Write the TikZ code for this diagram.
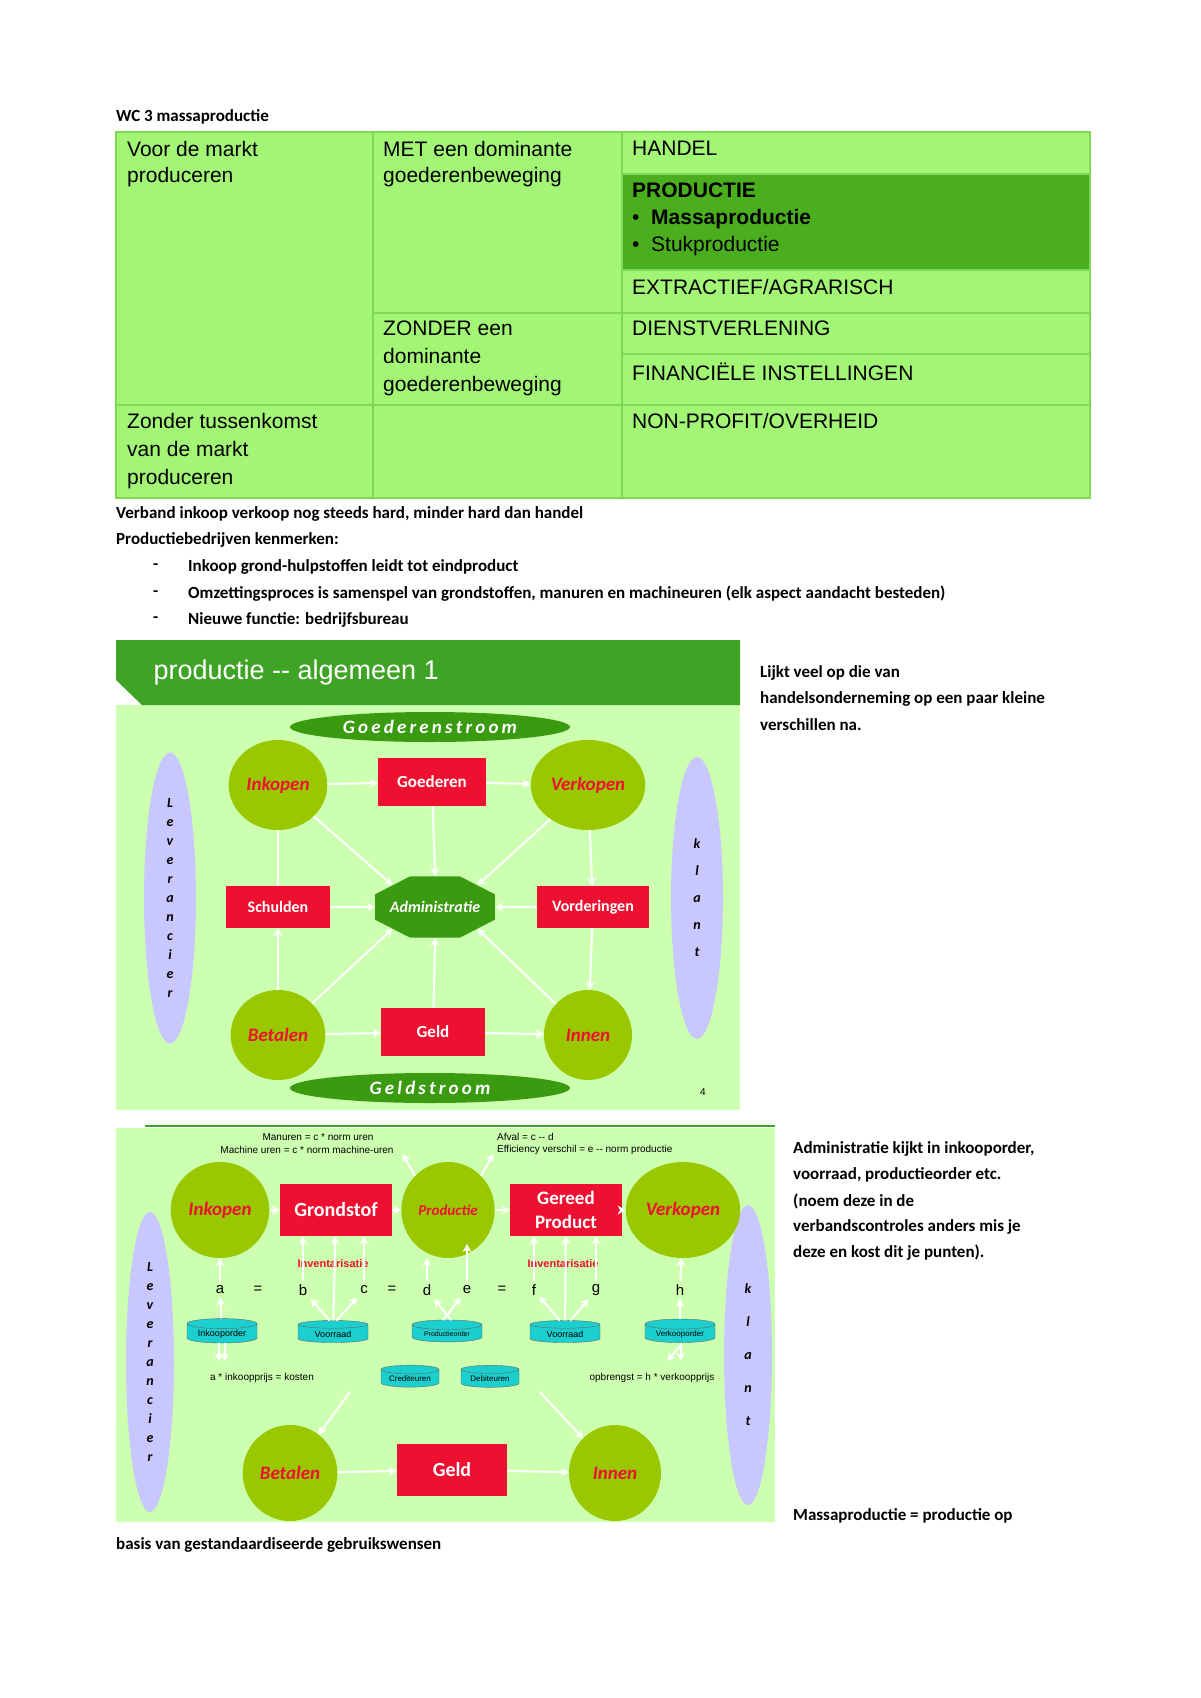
\documentclass[tikz,border=0pt]{standalone}
\usepackage{fontspec}
\setmainfont{Carlito}
\newfontfamily\arial{Liberation Sans}
\usetikzlibrary{arrows.meta,shapes.geometric}
\definecolor{lg}{HTML}{A3F576}
\definecolor{lgb}{HTML}{7ED957}
\definecolor{dg}{HTML}{4AAE1E}
\definecolor{hdr}{HTML}{3FA326}
\definecolor{bg}{HTML}{CCFFB0}
\definecolor{yg}{HTML}{99C800}
\definecolor{rd}{HTML}{EE1030}
\definecolor{lav}{HTML}{C8C8FF}
\definecolor{oct}{HTML}{3A9A10}
\definecolor{cy}{HTML}{1CCFCF}
\begin{document}
\begin{tikzpicture}[x=1pt,y=-1pt,
 doc/.style={anchor=west,font=\fontsize{17}{20}\selectfont\bfseries,inner sep=0},
 cell/.style={anchor=north west,font=\arial\fontsize{21}{26}\selectfont,align=left,inner sep=0},
 circ/.style={ellipse,fill=yg,minimum width=88,minimum height=90,font=\bfseries\itshape\fontsize{19}{20}\selectfont,text=rd},
 box/.style={fill=rd,text=white,font=\bfseries\fontsize{17}{20}\selectfont,align=center},
 side/.style={ellipse,fill=lav,font=\bfseries\itshape\fontsize{14}{19}\selectfont,align=center},
 stream/.style={ellipse,fill=oct,text=white,font=\bfseries\itshape\fontsize{19}{20}\selectfont},
 wa/.style={draw=white,line width=2pt,-{Stealth[length=8pt,width=9pt]}},
 wl/.style={draw=white,line width=2pt},
 cyl/.style={cylinder,shape border rotate=90,aspect=0.2,fill=cy,draw=black!60,minimum width=70,minimum height=22,font=\arial\fontsize{9}{10}\selectfont,inner sep=1},
 sm/.style={font=\arial\fontsize{10}{11}\selectfont,inner sep=0},
 let/.style={font=\arial\fontsize{15}{16}\selectfont}]
\useasboundingbox (0,0) rectangle (1200,1698);
\fill[white] (0,0) rectangle (1200,1698);
\node[doc] (t0) at (116,117) {WC 3 massaproductie};
% table
\fill[lg] (116,132) rectangle (1090,498);
\fill[dg] (622,174) rectangle (1090,270);
\begin{scope}[draw=lgb,line width=1.5pt]
\draw (116,132) rectangle (1090,498);
\draw (373,132) -- (373,498) (622,132) -- (622,498);
\draw (622,174) -- (1090,174) (622,270) -- (1090,270) (373,313) -- (1090,313) (622,354) -- (1090,354) (116,405) -- (1090,405);
\end{scope}
\node[cell] (c1) at (127,141) {Voor de markt\\produceren};
\node[cell] (c2) at (383,141) {MET een dominante\\goederenbeweging};
\node[cell] (c3) at (632,141) {HANDEL};
\node[cell,font=\arial\fontsize{21}{27}\selectfont] (c4) at (632,183) {\textbf{PRODUCTIE}\\•\ \ \textbf{Massaproductie}\\•\ \ Stukproductie};
\node[cell] (c5) at (632,279) {EXTRACTIEF/AGRARISCH};
\node[cell,font=\arial\fontsize{21}{28}\selectfont] (c6) at (383,321) {ZONDER een\\dominante\\goederenbeweging};
\node[cell] (c7) at (632,321) {DIENSTVERLENING};
\node[cell] (c8) at (632,363) {FINANCIËLE INSTELLINGEN};
\node[cell,font=\arial\fontsize{21}{28}\selectfont] (c9) at (127,413) {Zonder tussenkomst\\van de markt\\produceren};
\node[cell] (c10) at (632,413) {NON-PROFIT/OVERHEID};
% text
\node[doc] (l1) at (116,514) {Verband inkoop verkoop nog steeds hard, minder hard dan handel};
\node[doc] (l2) at (116,540) {Productiebedrijven kenmerken:};
\node[doc] (d1) at (153,567) {-}; \node[doc] (l3) at (188,567) {Inkoop grond-hulpstoffen leidt tot eindproduct};
\node[doc] (d2) at (153,594) {-}; \node[doc] (l4) at (188,594) {Omzettingsproces is samenspel van grondstoffen, manuren en machineuren (elk aspect aandacht besteden)};
\node[doc] (d3) at (153,620) {-}; \node[doc] (l5) at (188,620) {Nieuwe functie: bedrijfsbureau};
\node[doc] (r1) at (760,673) {Lijkt veel op die van};
\node[doc] (r2) at (760,699) {handelsonderneming op een paar kleine};
\node[doc] (r3) at (760,725) {verschillen na.};
% diagram 1
\fill[bg] (116,705) rectangle (740,1110);
\fill[hdr] (116,640) -- (740,640) -- (740,705) -- (142,705) -- (116,680) -- cycle;
\node[anchor=west,text=white,font=\arial\fontsize{27}{30}\selectfont] (tt) at (150,673) {productie -- algemeen 1};
\node[stream,minimum width=280,minimum height=30] (gs) at (430,727) {G\,o\,e\,d\,e\,r\,e\,n\,s\,t\,r\,o\,o\,m};
\node[stream,minimum width=280,minimum height=30] (gl) at (430,1088) {G\,e\,l\,d\,s\,t\,r\,o\,o\,m};
\node[side,minimum width=52,minimum height=282] (lv) at (170,898) {L\\e\\v\\e\\r\\a\\n\\c\\i\\e\\r};
\node[side,minimum width=52,minimum height=282] (kl) at (697,898) {k\\[8pt]l\\[8pt]a\\[8pt]n\\[8pt]t};
\node[circ] (ink) at (278,785) {Inkopen};
\node[circ] (vk) at (588,785) {Verkopen};
\node[circ] (bet) at (278,1035) {Betalen};
\node[circ] (inn) at (588,1035) {Innen};
\node[box,minimum width=108,minimum height=48] (goe) at (432,782) {Goederen};
\node[box,minimum width=104,minimum height=42,font=\bfseries\fontsize{16}{18}\selectfont] (sch) at (278,907) {Schulden};
\node[box,minimum width=112,minimum height=42,font=\bfseries\fontsize{16}{18}\selectfont] (vor) at (593,907) {Vorderingen};
\node[box,minimum width=104,minimum height=48] (geld) at (433,1032) {Geld};
\node[regular polygon,regular polygon sides=8,fill=oct,minimum size=70,xscale=1.85,yscale=0.95] (adm0) at (435,907) {};
\node[text=white,font=\bfseries\itshape\fontsize{16}{18}\selectfont] (adm) at (435,907) {Administratie};
\draw[wa] (ink) -- (goe); \draw[wa] (goe) -- (vk);
\draw[wa] (bet) -- (geld); \draw[wa] (geld) -- (inn);
\draw[wa] (goe) -- (adm0.north);
\draw[wa] (geld) -- (adm0.south);
\draw[wa] (sch) -- (adm0.west);
\draw[wa] (vor) -- (adm0.east);
\draw[wa] (ink) -- (adm0.north west);
\draw[wa] (vk) -- (adm0.north east);
\draw[wa] (bet) -- (adm0.south west);
\draw[wa] (inn) -- (adm0.south east);
\draw[wl] (ink) -- (sch);
\draw[wa] (bet) -- (sch);
\draw[wa] (vk) -- (vor);
\draw[wa] (vor) -- (inn);
\node[sm] (pg) at (703,1092) {4};
% diagram 2
\fill[bg] (116,1128) rectangle (775,1522);
\draw[hdr,line width=2pt] (145,1126) -- (775,1126);
\node[side,minimum width=48,minimum height=300] (lv2) at (150,1362) {L\\e\\v\\e\\r\\a\\n\\c\\i\\e\\r};
\node[side,minimum width=48,minimum height=300] (kl2) at (748,1355) {k\\[14pt]l\\[14pt]a\\[14pt]n\\[14pt]t};
\node[circ,minimum width=92,minimum height=96] (i2) at (220,1210) {Inkopen};
\node[circ,minimum width=92,minimum height=96,font=\bfseries\itshape\fontsize{15}{16}\selectfont] (p2) at (448,1210) {Productie};
\node[circ,minimum width=92,minimum height=96] (v2) at (683,1210) {Verkopen};
\node[circ,minimum width=92,minimum height=96] (b2) at (290,1473) {Betalen};
\node[circ,minimum width=92,minimum height=96] (n2) at (615,1473) {Innen};
\node[box,minimum width=112,minimum height=52,font=\bfseries\fontsize{20}{22}\selectfont] (gr) at (336,1210) {Grondstof};
\node[box,minimum width=112,minimum height=52,font=\bfseries\fontsize{19}{24}\selectfont] (gp) at (566,1210) {Gereed\\Product};
\node[box,minimum width=110,minimum height=52,font=\bfseries\fontsize{20}{22}\selectfont] (g2) at (452,1470) {Geld};
\draw[wa] (i2) -- (gr); \draw[wa] (gr) -- (p2); \draw[wa] (p2) -- (gp); \draw[wa] (gp) -- (v2);
\draw[wa] (b2) -- (g2); \draw[wa] (g2) -- (n2);
\node[sm] (m1) at (318,1137) {Manuren = c * norm uren};
\node[sm] (m2) at (307,1150) {Machine uren = c * norm machine-uren};
\node[sm,anchor=west] (m3) at (497,1137) {Afval = c -- d};
\node[sm,anchor=west] (m4) at (497,1150) {Efficiency verschil = e -- norm productie};
\draw[wa] (p2.north west) -- ++(-12,-22) coordinate (e1);
\draw[wa] (p2.north east) -- ++(12,-22) coordinate (e2);
\node[text=rd,font=\arial\bfseries\fontsize{11}{12}\selectfont] (iv1) at (333,1264) {Inventarisatie};
\node[text=rd,font=\arial\bfseries\fontsize{11}{12}\selectfont] (iv2) at (563,1264) {Inventarisatie};
\foreach \n/\x/\t in {la/220/a,eq1/258/=,lb/303/b,lc/364/c,eq2/392/=,ld/427/d,le/467/e,eq3/502/=,lf/534/f,lg/596/g,lh/680/h}
  \node[let] (\n) at (\x,1290) {\t};
\node[cyl] (io) at (222,1334) {Inkooporder};
\node[cyl] (vr1) at (333,1334) {Voorraad};
\node[cyl,font=\arial\fontsize{7}{8}\selectfont] (po) at (447,1334) {Productieorder};
\node[cyl] (vr2) at (565,1334) {Voorraad};
\node[cyl,font=\arial\fontsize{8}{9}\selectfont] (vo) at (680,1334) {Verkooporder};
\node[cyl,minimum width=58,font=\arial\fontsize{8}{9}\selectfont] (cr) at (410,1379) {Crediteuren};
\node[cyl,minimum width=58,font=\arial\fontsize{8}{9}\selectfont] (db) at (490,1379) {Debiteuren};
\node[sm] (k1) at (262,1378) {a * inkoopprijs = kosten};
\node[sm] (k2) at (652,1378) {opbrengst = h * verkoopprijs};
\begin{scope}[every path/.style={wa}]
\draw (io) -- (la); \draw (la) -- (i2);
\draw (vr1.north west) ++(10,0) -- (lb); \draw (lb) -- (gr.south west -| lb);
\draw (vr1.north east) ++(-10,0) -- (lc); \draw (lc) -- (gr.south east -| lc);
\draw (vr1) -- (gr);
\draw (po.north west) ++(18,0) -- (ld); \draw (ld) -- (p2.south -| ld);
\draw (po.north east) ++(-18,0) -- (le); \draw (le) -- (p2.south east -| le);
\draw (vr2.north west) ++(8,0) -- (lf); \draw (lf) -- (gp.south west -| lf);
\draw (vr2.north east) ++(-8,0) -- (lg); \draw (lg) -- (gp.south east -| lg);
\draw (vr2) -- (gp);
\draw (vo) -- (lh); \draw (lh) -- (v2);
\draw (io.south west) ++(12,0) -- ++(0,18);
\draw (io.south east) ++(-12,0) -- ++(0,18);
\draw (vo.south west) ++(10,2) -- ++(-14,16);
\draw (vo.south east) ++(-8,0) -- ++(0,18);
\end{scope}
\coordinate (s1) at (350,1392);
\coordinate (s2) at (540,1392);
\draw[wa] (s1) -- (b2);
\draw[wa] (s2) -- (n2);
\node[doc] (a1) at (793,1149) {Administratie kijkt in inkooporder,};
\node[doc] (a2) at (793,1175) {voorraad, productieorder etc.};
\node[doc] (a3) at (793,1201) {(noem deze in de};
\node[doc] (a4) at (793,1227) {verbandscontroles anders mis je};
\node[doc] (a5) at (793,1253) {deze en kost dit je punten).};
\node[doc] (a6) at (793,1516) {Massaproductie = productie op};
\node[doc] (a7) at (116,1545) {basis van gestandaardiseerde gebruikswensen};
\end{tikzpicture}
\end{document}
